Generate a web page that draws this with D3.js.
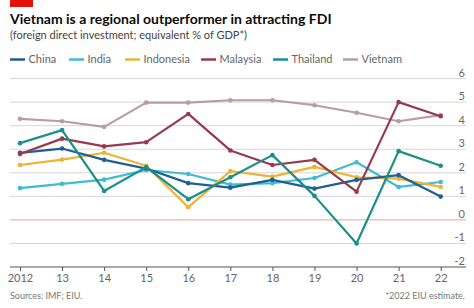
<!DOCTYPE html>
<html>
<head>
<meta charset="utf-8">
<script src="https://cdn.jsdelivr.net/npm/d3@7"></script>
<style>
  body { margin: 0; background: #fff; }
  svg { font-family: Lato, "Open Sans", sans-serif; }
</style>
</head>
<body>
<svg width="474" height="308"></svg>
<script>
var years = [2012, 2013, 2014, 2015, 2016, 2017, 2018, 2019, 2020, 2021, 2022];
var yearLabels = ["2012", "13", "14", "15", "16", "17", "18", "19", "20", "21", "22"];
var yTicks = [-2, -1, 0, 1, 2, 3, 4, 5, 6];

var countries = ["China", "India", "Indonesia", "Malaysia", "Thailand", "Vietnam"];
var colors = ["#1f5f96", "#3ebcd2", "#ebb434", "#963a4f", "#1a8f8c", "#b89ca6"];

var china     = [2.85, 3.03, 2.55, 2.18, 1.56, 1.37, 1.70, 1.33, 1.70, 1.90, 0.99];
var india     = [1.35, 1.53, 1.71, 2.12, 1.95, 1.50, 1.56, 1.78, 2.45, 1.40, 1.61];
var indonesia = [2.33, 2.56, 2.85, 2.30, 0.54, 2.07, 1.84, 2.25, 1.81, 1.75, 1.40];
var malaysia  = [2.80, 3.45, 3.12, 3.30, 4.50, 2.95, 2.33, 2.55, 1.20, 5.00, 4.40];
var thailand  = [3.26, 3.81, 1.23, 2.24, 0.88, 1.81, 2.75, 1.02, -1.00, 2.92, 2.30];
var vietnam   = [4.29, 4.19, 3.95, 4.98, 4.98, 5.08, 5.08, 4.87, 4.55, 4.19, 4.45];

var seriesValues = [china, india, indonesia, malaysia, thailand, vietnam];

var svg = d3.select("svg");

var x = d3.scaleLinear().domain([2012, 2022]).range([20, 440.7]);
var y = d3.scaleLinear().domain([-2, 6]).range([267, 78.6]);

// red tag + titles
svg.append("rect").attr("x", 10).attr("y", 0).attr("width", 23).attr("height", 7).attr("fill", "#e3120b");

svg.append("text")
    .attr("x", 10).attr("y", 24)
    .attr("font-size", 14).attr("font-weight", "bold").attr("fill", "#0c0c0c")
    .text("Vietnam is a regional outperformer in attracting FDI");

svg.append("text")
    .attr("x", 10).attr("y", 39)
    .attr("font-size", 11).attr("fill", "#444")
    .text("(foreign direct investment; equivalent % of GDP*)");

// legend
var legendX = [10, 69, 125, 201, 273, 343];
var legend = svg.append("g").selectAll("g")
  .data(countries)
  .enter().append("g")
    .attr("transform", function(d, i) { return "translate(" + legendX[i] + ",59.5)"; });

legend.append("line")
    .attr("x1", 0).attr("x2", 15)
    .attr("stroke", function(d, i) { return colors[i]; })
    .attr("stroke-width", 2.5);

legend.append("text")
    .attr("x", 18.5).attr("dy", "0.35em")
    .attr("font-size", 11).attr("fill", "#666")
    .text(function(d) { return d; });

// gridlines + y labels
var grid = svg.append("g");
grid.selectAll("line")
  .data(yTicks.filter(function(d) { return d !== -2; }))
  .enter().append("line")
    .attr("x1", 10).attr("x2", 466)
    .attr("y1", function(d) { return y(d); })
    .attr("y2", function(d) { return y(d); })
    .attr("stroke", function(d) { return d === 0 ? "#e8a1a6" : "#d6d6d6"; })
    .attr("stroke-width", 1);

grid.selectAll("text")
  .data(yTicks)
  .enter().append("text")
    .attr("x", 465).attr("y", function(d) { return y(d) - 2; })
    .attr("text-anchor", "end")
    .attr("font-size", 11).attr("fill", "#666")
    .text(function(d) { return d < 0 ? "-" + Math.abs(d) : d; });

// x axis
var xAxis = svg.append("g")
    .attr("transform", "translate(0," + y(-2) + ")")
    .call(d3.axisBottom(x)
      .tickValues(years)
      .tickSize(4)
      .tickPadding(3)
      .tickFormat(function(d, i) { return yearLabels[i]; }));
xAxis.select(".domain").remove();
xAxis.insert("line", ":first-child")
    .attr("x1", 10).attr("x2", 466)
    .attr("stroke", "#555").attr("stroke-width", 1);
xAxis.selectAll(".tick line").attr("stroke", "#555");
xAxis.selectAll(".tick text")
    .attr("font-size", 11).attr("fill", "#666")
    .attr("font-family", "Lato, 'Open Sans', sans-serif");

// lines
var line = d3.line()
    .x(function(d, i) { return x(years[i]); })
    .y(function(d) { return y(d); });

var drawOrder = [5, 1, 2, 0, 3, 4];
drawOrder.forEach(function(k) {
  var g = svg.append("g");
  g.append("path")
      .datum(seriesValues[k])
      .attr("d", line)
      .attr("fill", "none")
      .attr("stroke", colors[k])
      .attr("stroke-width", 2.2)
      .attr("stroke-linejoin", "round");
  g.selectAll("circle")
    .data(seriesValues[k])
    .enter().append("circle")
      .attr("cx", function(d, i) { return x(years[i]); })
      .attr("cy", function(d) { return y(d); })
      .attr("r", 2.3)
      .attr("fill", colors[k]);
});

// footnotes
svg.append("text")
    .attr("x", 10).attr("y", 299)
    .attr("font-size", 9).attr("fill", "#777")
    .text("Sources: IMF; EIU.");

svg.append("text")
    .attr("x", 465).attr("y", 299)
    .attr("text-anchor", "end")
    .attr("font-size", 9).attr("fill", "#777")
    .text("*2022 EIU estimate.");
</script>
</body>
</html>
